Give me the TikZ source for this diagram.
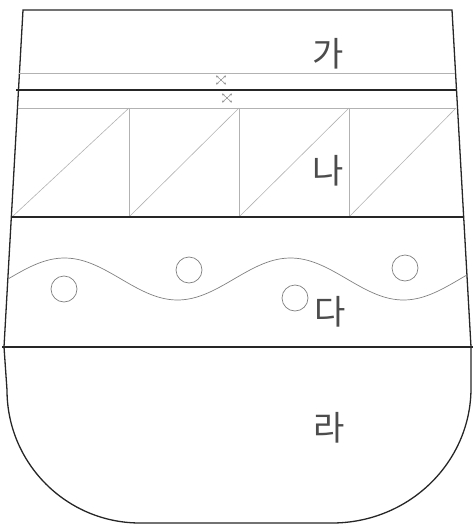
\documentclass[tikz,border=0pt]{standalone}
\usepackage{fontspec}
\newfontfamily\kor{Noto Sans CJK KR}
\usetikzlibrary{arrows.meta}

\tikzset{
    edge/.style={line width=1.3pt, black!85},
    thin/.style={line width=0.6pt, black!30},
    wave/.style={line width=0.7pt, black!50},
    label/.style={text=black!70, font=\kor\fontsize{34}{34}\selectfont, inner sep=0pt},
    moveicon/.pic={
        \draw [black!45, line width=0.5pt, {Stealth[length=2.4pt, width=2.4pt]}-{Stealth[length=2.4pt, width=2.4pt]}] (-5,-4.5) -- (5,4.5);
        \draw [black!45, line width=0.5pt, {Stealth[length=2.4pt, width=2.4pt]}-{Stealth[length=2.4pt, width=2.4pt]}] (-5,4.5) -- (5,-4.5);
    }
}

\begin{document}
\begin{tikzpicture}[x=1pt, y=-1pt]
            \useasboundingbox (0,0) rectangle (474,527);
            % outline
            \draw [edge] (4,347) -- (23,10) -- (452,10) -- (471,347);
            \draw [edge] (4,347) -- (7,390) arc [start angle=180, end angle=270,
                x radius=133, y radius=-133] -- (332,523)
                arc [start angle=270, end angle=360, x radius=139, y radius=-135]
                -- (471,347);
            % 가 band
            \draw [thin] (19,73) -- (455,73);
            \draw [edge] (16,90) -- (457,90);
            \draw [thin] (18,108) -- (456,108);
            \pic at (221,80) {moveicon};
            \pic at (227,98) {moveicon};
            % 나 band
            \foreach \x in {129,239,349}
                \draw [thin] (\x,108) -- (\x,217);
            \draw [thin] (12,217) -- (129,108);
            \draw [thin] (129,217) -- (239,108);
            \draw [thin] (239,217) -- (349,108);
            \draw [thin] (349,217) -- (456,108);
            \draw [edge] (11,217) -- (464,217);
            % 다 band
            \draw [wave] plot [domain=8:466, samples=120, smooth]
                (\x, {279-21*sin((\x-8)/226*360)});
            \foreach \cx/\cy in {64/289, 189/270, 295/298, 405/268}
                \draw [wave] (\cx,\cy) circle [radius=13pt];
            \draw [edge] (2,347) -- (473,347);
            % labels
            \node [label] (ga) at (328,54) {가};
            \node [label] (na) at (328,171) {나};
            \node [label] (da) at (330,312) {다};
            \node [label] (ra) at (329,428) {라};
        \end{tikzpicture}
\end{document}
